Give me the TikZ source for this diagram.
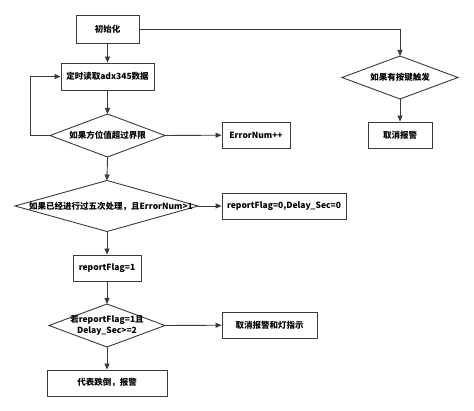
\documentclass[tikz,border=0pt]{standalone}
\usepackage{fontspec}
\setmainfont{Noto Sans CJK SC}
\usetikzlibrary{arrows.meta}
\definecolor{ln}{HTML}{3A3A3A}
\tikzset{
  box/.style={draw=ln, line width=0.9pt, rectangle, minimum height=26pt, inner sep=0pt, font=\fontsize{8.5}{10}\selectfont\bfseries},
  dia/.style={draw=ln, line width=0.9pt},
  conn/.style={draw=ln, line width=0.9pt, -{Triangle[length=6pt,width=5pt]}},
  lbl/.style={font=\fontsize{8.5}{10.5}\selectfont\bfseries, align=center, inner sep=0pt}
}
\begin{document}
\begin{tikzpicture}[x=1pt,y=-1pt]
\useasboundingbox (0,0) rectangle (474,411);
% boxes
\node[box, minimum width=63pt, minimum height=28pt] (init) at (107.5,29) {初始化};
\node[box, minimum width=93pt, minimum height=27pt] (read) at (107.5,76.5) {定时读取adx345数据};
\node[box, minimum width=68pt] (err) at (256,135) {ErrorNum++};
\node[box, minimum width=64pt] (cancel1) at (400,135) {取消报警};
\node[box, minimum width=124pt] (rf0) at (284,206) {reportFlag=0,Delay\_Sec=0};
\node[box, minimum width=68pt] (rf1) at (107,268) {reportFlag=1};
\node[box, minimum width=95pt] (cancel2) at (269.5,325) {取消报警和灯指示};
\node[box, minimum width=120pt] (fall) at (107,383) {代表跌倒，报警};
% diamonds
\coordinate (d1) at (107.5,135.5);
\draw[dia] (50,135.5) coordinate (d1w) -- (107.5,114) coordinate (d1n) -- (165,135.5) coordinate (d1e) -- (107.5,157) coordinate (d1s) -- cycle;
\node[lbl] (t1) at (d1) {如果方位值超过界限};
\coordinate (dk) at (400,77.5);
\draw[dia] (342,77.5) coordinate (dkw) -- (400,56) coordinate (dkn) -- (458,77.5) coordinate (dke) -- (400,99) coordinate (dks) -- cycle;
\node[lbl] (tk) at (dk) {如果有按键触发};
\coordinate (d2) at (107,206);
\draw[dia] (15,206) coordinate (d2w) -- (107,180.5) coordinate (d2n) -- (198,206) coordinate (d2e) -- (107,231.5) coordinate (d2s) -- cycle;
\node[lbl] (t2) at (111,206) {如果已经进行过五次处理，且ErrorNum>1};
\coordinate (d3) at (107,325.5);
\draw[dia] (49,325.5) coordinate (d3w) -- (107,304) coordinate (d3n) -- (165,325.5) coordinate (d3e) -- (107,347) coordinate (d3s) -- cycle;
\node[lbl] (t3) at (d3) {若reportFlag=1且\\Delay\_Sec>=2};
% connectors
\draw[conn] (init) -- (read);
\draw[conn] (read) -- (d1n);
\draw[conn] (d1e) -- (err);
\draw[conn] (d1w) -- (30,135.5) |- (read.west);
\draw[conn] (init.east) -| (dkn);
\draw[conn] (dks) -- (cancel1);
\draw[conn] (d1s) -- (d2n);
\draw[conn] (d2e) -- (rf0);
\draw[conn] (d2s) -- (rf1);
\draw[conn] (rf1) -- (d3n);
\draw[conn] (d3e) -- (cancel2);
\draw[conn] (d3s) -- (fall);
\end{tikzpicture}
\end{document}
